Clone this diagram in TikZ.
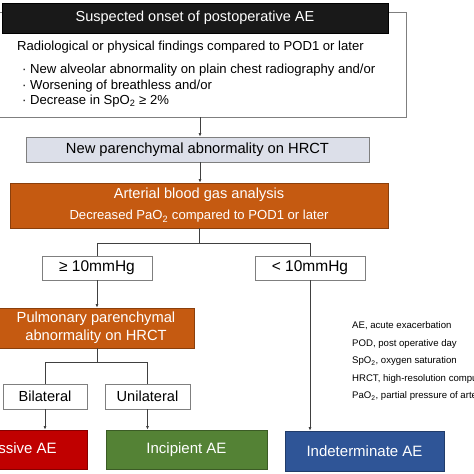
\documentclass[tikz,border=0pt]{standalone}
\usepackage{fontspec}
\setmainfont{Liberation Sans}
\usetikzlibrary{arrows.meta}
\definecolor{abgorange}{HTML}{C55A11}
\definecolor{progred}{HTML}{C00000}
\definecolor{incgreen}{HTML}{548235}
\definecolor{indblue}{HTML}{2F5597}
\definecolor{hrctgray}{HTML}{DCDFE9}
\definecolor{boxline}{HTML}{7F7F7F}

\begin{document}
\begin{tikzpicture}[x=1pt,y=-1pt,
    box/.style={rectangle,draw=boxline,line width=0.8pt,inner sep=0pt,font=\fontsize{14.6}{17}\selectfont},
    result/.style={box,draw=#1!70!black,fill=#1,text=white,font=\fontsize{15}{17}\selectfont},
    link/.style={draw=black!75,line width=0.7pt},
    arrow/.style={link,-{Latex[length=3.5pt,width=3pt]}}
]
    \clip (0,0) rectangle (474,474);
    \fill[white] (0,0) rectangle (474,474);

    % first screening
    \node[box,minimum width=422pt,minimum height=105pt] (frame) at (195,64.5) {};
    \node[box,draw=black,fill=black!90,text=white,minimum width=386pt,minimum height=30pt,font=\fontsize{14.5}{17}\selectfont] (onset) at (195,18) {Suspected onset of postoperative AE};
    \node[anchor=west,inner sep=0pt,font=\fontsize{13.1}{15}\selectfont] (finding) at (17,47) {Radiological or physical findings compared to POD1 or later};
    \node[anchor=north west,align=left,inner sep=0pt,font=\fontsize{13.1}{15.5}\selectfont] (criteria) at (22,64)
        {· New alveolar abnormality on plain chest radiography and/or\\
         · Worsening of breathless and/or\\
         · Decrease in SpO\textsubscript{2} ≥ 2\%};

    % imaging and gas analysis
    \node[box,fill=hrctgray,minimum width=343pt,minimum height=25pt,font=\fontsize{14.7}{17}\selectfont] (hrct) at (197.5,149.5) {New parenchymal abnormality on HRCT};
    \node[box,draw=abgorange!70!black,fill=abgorange,text=white,minimum width=378pt,minimum height=45pt,align=center,font=\fontsize{14.6}{21}\selectfont] (abg) at (199,205.5)
        {Arterial blood gas analysis\\{\fontsize{13.1}{15}\selectfont Decreased PaO\textsubscript{2} compared to POD1 or later}};

    \node[box,minimum width=110pt,minimum height=24pt,font=\fontsize{15.5}{17}\selectfont] (ge) at (97,268) {≥ 10mmHg};
    \node[box,minimum width=110pt,minimum height=24pt,font=\fontsize{15.5}{17}\selectfont] (lt) at (310,268) {< 10mmHg};

    \node[box,draw=abgorange!70!black,fill=abgorange,text=white,minimum width=196pt,minimum height=40pt,align=center,font=\fontsize{14.7}{18}\selectfont] (pulm) at (96,328)
        {Pulmonary parenchymal\\abnormality on HRCT};

    \node[box,minimum width=84pt,minimum height=25pt] (bil) at (45,396.5) {Bilateral};
    \node[box,minimum width=85pt,minimum height=25pt] (uni) at (147.5,396.5) {Unilateral};

    % outcomes
    \node[result=progred,minimum width=164pt,minimum height=39pt] (prog) at (5,449.5) {Progressive AE};
    \node[result=incgreen,minimum width=161pt,minimum height=39pt] (inc) at (186.5,449.5) {Incipient AE};
    \node[result=indblue,minimum width=159pt,minimum height=40pt] (ind) at (364.5,451) {Indeterminate AE};

    % abbreviations
    \node[anchor=north west,align=left,inner sep=0pt,font=\fontsize{9.6}{17.5}\selectfont] (abbr) at (352,321.5)
        {AE, acute exacerbation\\
         POD, post operative day\\
         SpO\textsubscript{2}, oxygen saturation\\
         HRCT, high-resolution computed tomography\\
         PaO\textsubscript{2}, partial pressure of arterial oxygen};

    % connectors
    \draw[arrow] (frame.south -| 200,0) -- (hrct.north -| 200,0);
    \draw[arrow] (hrct.south -| 200,0) -- (abg.north -| 200,0);
    \draw[link] (abg.south) -- ++(0,15) coordinate (abgsplit);
    \draw[link] (ge.north) |- (abgsplit) -| (lt.north);
    \draw[arrow] (ge.south) -- (ge.south |- pulm.north);
    \draw[link] (pulm.south -| 97,0) -- ++(0,14) coordinate (pulmsplit);
    \draw[link] (bil.north) |- (pulmsplit) -| (uni.north);
    \draw[arrow] (bil.south) -- (bil.south |- prog.north);
    \draw[arrow] (uni.south) -- (uni.south |- inc.north);
    \draw[arrow] (lt.south) -- (lt.south |- ind.north);
\end{tikzpicture}
\end{document}
